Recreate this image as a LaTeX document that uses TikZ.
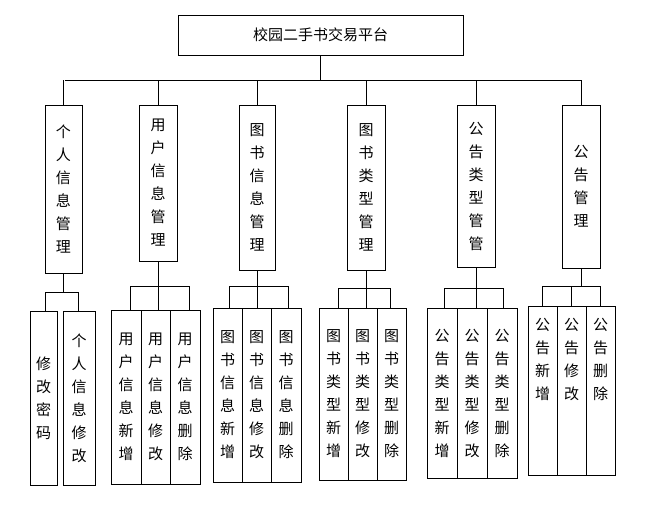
\documentclass[tikz,border=0pt]{standalone}
\usepackage{fontspec}
\newfontfamily\cjk{Noto Sans CJK SC}
\begin{document}
\begin{tikzpicture}[x=1pt,y=-1pt,line width=0.8pt,
 bx/.style={draw,inner sep=0pt,align=center,font=\cjk\fontsize{15}{23}\selectfont}]
\useasboundingbox (0,0) rectangle (646,507);
\def\B#1#2#3#4#5#6{\node[bx,minimum width=#4-#2,minimum height=#5-#3] (#1) at ({(#2+#4)/2},{(#3+#5)/2}) {#6};}
\B{top}{178}{15}{463}{55}{校园二手书交易平台}
\B{a}{45}{105}{82}{273}{个\\人\\信\\息\\管\\理}
\B{b}{139}{105}{177}{261}{用\\户\\信\\息\\管\\理}
\B{c}{239}{105}{275}{270}{图\\书\\信\\息\\管\\理}
\B{d}{347}{105}{385}{270}{图\\书\\类\\型\\管\\理}
\B{e}{457}{105}{495}{267}{公\\告\\类\\型\\管\\管}
\B{f}{562}{105}{600}{268}{公\\告\\管\\理}
\coordinate (t1) at (top.south|-0,80);
\draw (top.south) -- (t1);
\draw (65,80) -- (581,80);
\foreach \n in {a,b,c,d,e,f}{\draw (\n.north|-0,80) -- (\n.north);}
% group 1
\B{a1}{30}{311}{57}{485}{修\\改\\密\\码}
\B{a2}{63}{311}{95}{485}{个\\人\\信\\息\\修\\改}
\draw (a.south) -- (a.south|-0,292); \draw (45,292) -- (78,292);
\draw (45,292) -- (a1.north-|45,0); \draw (78,292) -- (a2.north-|78,0);
% group 2
\B{b1}{111}{310}{141}{484}{用\\户\\信\\息\\新\\增}
\B{b2}{141}{310}{170}{484}{用\\户\\信\\息\\修\\改}
\B{b3}{170}{310}{200}{484}{用\\户\\信\\息\\删\\除}
\draw (b.south) -- (b.south|-b2.north); \draw (130,286) -- (189,286);
\draw (130,286) -- (b1.north-|130,0); \draw (189,286) -- (b3.north-|189,0);
% group 3
\B{c1}{213}{308}{242}{482}{图\\书\\信\\息\\新\\增}
\B{c2}{242}{308}{271}{482}{图\\书\\信\\息\\修\\改}
\B{c3}{271}{308}{301}{482}{图\\书\\信\\息\\删\\除}
\draw (c.south) -- (c.south|-c2.north); \draw (229,286) -- (288,286);
\draw (229,286) -- (c1.north-|229,0); \draw (288,286) -- (c3.north-|288,0);
% group 4
\B{d1}{319}{308}{348}{480}{图\\书\\类\\型\\新\\增}
\B{d2}{348}{308}{377}{480}{图\\书\\类\\型\\修\\改}
\B{d3}{377}{308}{406}{480}{图\\书\\类\\型\\删\\除}
\draw (d.south) -- (d.south|-0,288); \draw (338,288) -- (390,288);
\draw (338,288) -- (d1.north-|338,0); \draw (390,288) -- (d3.north-|390,0);
\draw (d.south|-0,288) -- (d.south|-d2.north);
% group 5
\B{e1}{427}{308}{457}{478}{公\\告\\类\\型\\新\\增}
\B{e2}{457}{308}{487}{478}{公\\告\\类\\型\\修\\改}
\B{e3}{487}{308}{517}{478}{公\\告\\类\\型\\删\\除}
\draw (e.south) -- (e.south|-0,288); \draw (444,288) -- (503,288);
\draw (444,288) -- (e1.north-|444,0); \draw (503,288) -- (e3.north-|503,0);
\draw (e.south|-0,288) -- (e.south|-e2.north);
% group 6
\B{f1}{528}{306}{557}{475}{公\\告\\新\\增\\[40pt]}
\B{f2}{557}{306}{586}{475}{公\\告\\修\\改\\[40pt]}
\B{f3}{586}{306}{615}{475}{公\\告\\删\\除\\[40pt]}
\draw (f.south) -- (f.south|-0,286); \draw (542,286) -- (600,286);
\draw (542,286) -- (f1.north-|542,0); \draw (600,286) -- (f3.north-|600,0);
\draw (571,286) -- (f2.north-|571,0);
\end{tikzpicture}
\end{document}
